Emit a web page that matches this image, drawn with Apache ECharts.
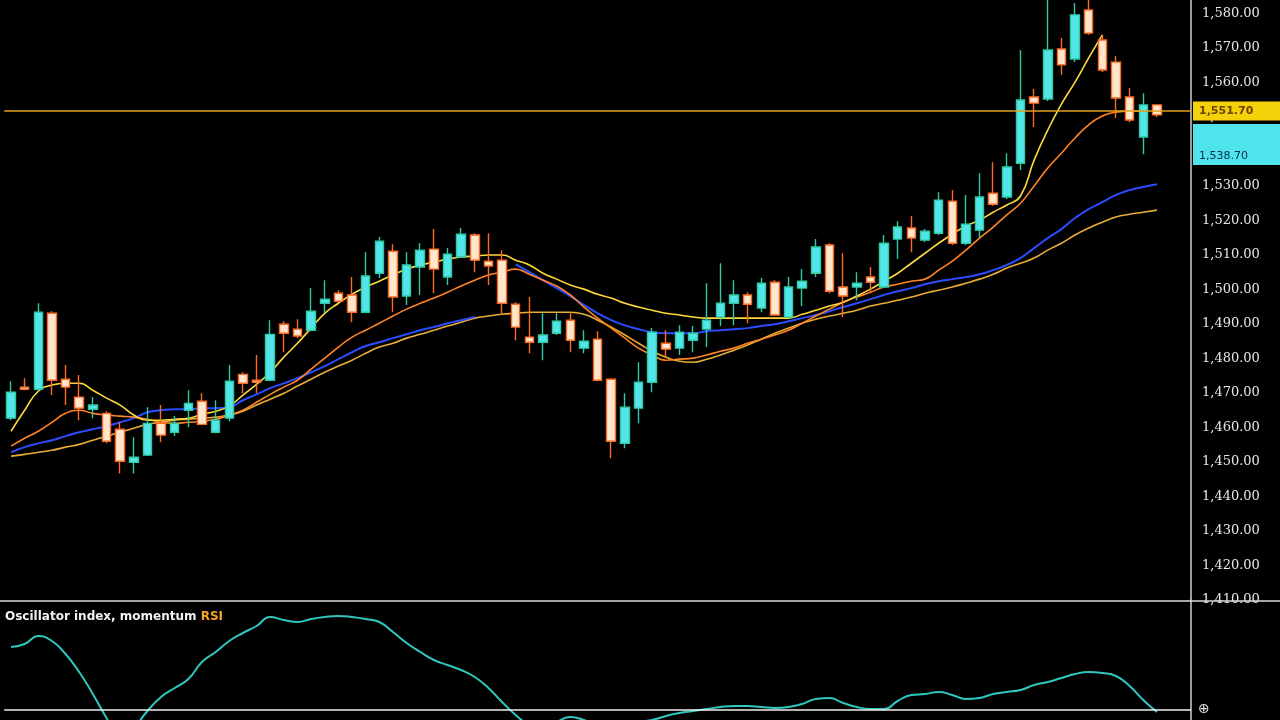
<!DOCTYPE html>
<html><head><meta charset="utf-8">
<script src="https://cdn.jsdelivr.net/npm/echarts/dist/echarts.min.js"></script>
<style>html,body{margin:0;padding:0;background:#000;}#c{width:1280px;height:720px;}</style>
</head><body><div id="c"></div>
<script>
// ---- data ----
const sessions = Array.from({length: 87}, (_, i) => 'T' + (i + 1));
const yTicks = {min: 1410, max: 1583.9, step: 10};

const opens  = [1462.7,1471.7,1471.1,1493.1,1474.0,1468.8,1465.3,1464.1,1459.5,1449.9,1452.0,1461.2,1458.6,1465.0,1467.6,1458.6,1462.7,1475.4,1473.7,1473.7,1489.9,1488.5,1488.2,1496.0,1498.9,1498.4,1493.4,1504.7,1511.1,1498.1,1506.5,1511.7,1503.6,1509.4,1515.8,1508.2,1508.5,1495.7,1486.2,1484.7,1487.3,1491.1,1483.0,1485.6,1474.0,1455.4,1465.6,1473.1,1484.4,1483.0,1485.3,1488.5,1492.0,1496.0,1498.4,1494.6,1502.1,1492.0,1500.4,1504.7,1512.9,1500.7,1500.7,1503.6,1500.7,1514.6,1517.8,1514.3,1516.3,1525.6,1513.4,1517.2,1527.9,1526.8,1536.6,1555.8,1555.2,1569.7,1566.8,1581.0,1572.3,1565.9,1555.8,1544.2,1553.5];
const closes = [1470.2,1471.1,1493.4,1473.7,1471.7,1465.6,1466.5,1456.0,1450.2,1451.4,1461.2,1457.8,1461.2,1467.0,1460.9,1462.1,1473.4,1472.8,1473.1,1487.0,1487.3,1486.5,1493.7,1497.2,1496.6,1493.4,1503.9,1514.0,1497.8,1507.1,1511.4,1505.9,1510.2,1516.0,1508.5,1506.8,1496.0,1489.1,1484.7,1486.8,1490.8,1485.3,1485.0,1473.7,1456.0,1465.9,1473.1,1487.6,1482.7,1487.6,1487.3,1491.1,1496.0,1498.4,1495.7,1501.8,1492.6,1500.7,1502.4,1512.3,1499.5,1498.1,1501.8,1502.1,1513.4,1518.1,1514.9,1516.9,1525.9,1513.4,1518.9,1526.8,1524.7,1535.5,1554.9,1554.0,1569.4,1565.1,1579.6,1574.3,1563.6,1555.5,1549.1,1553.5,1550.6];
const lows   = [1462.1,1470.8,1470.8,1469.4,1466.5,1462.1,1462.7,1455.4,1446.7,1446.7,1451.7,1455.7,1457.5,1460.1,1460.7,1458.3,1461.8,1469.9,1469.9,1473.4,1481.8,1485.9,1487.9,1493.1,1496.3,1490.5,1493.1,1503.3,1493.4,1495.5,1498.4,1498.9,1501.3,1509.1,1505.0,1501.3,1492.6,1485.3,1481.5,1479.5,1486.8,1481.8,1481.5,1473.4,1451.1,1454.0,1461.2,1470.2,1480.4,1481.0,1481.8,1483.3,1489.4,1489.6,1490.2,1493.4,1492.3,1491.7,1495.2,1503.6,1498.9,1492.0,1496.9,1498.9,1500.4,1508.8,1510.8,1513.7,1515.8,1512.9,1512.9,1514.9,1524.2,1526.2,1534.6,1547.1,1554.6,1562.2,1565.9,1573.8,1563.0,1549.7,1548.5,1539.2,1550.0];
const highs  = [1473.4,1474.3,1496.0,1493.7,1478.1,1475.2,1468.8,1464.7,1461.5,1457.2,1465.9,1466.5,1463.3,1470.8,1469.9,1467.9,1478.1,1476.0,1481.0,1491.1,1490.8,1491.4,1500.4,1502.7,1499.8,1503.6,1510.8,1515.2,1513.1,1510.8,1513.4,1517.5,1512.0,1517.8,1516.3,1516.3,1511.4,1496.3,1497.8,1493.1,1493.1,1493.1,1488.2,1487.9,1474.3,1469.9,1478.9,1488.8,1488.2,1489.6,1489.4,1501.8,1507.6,1502.7,1499.2,1503.3,1502.7,1503.6,1505.9,1514.6,1513.4,1510.5,1505.0,1506.5,1515.8,1519.8,1521.3,1517.5,1528.2,1528.8,1527.4,1533.7,1536.9,1539.5,1569.4,1558.1,1590.0,1572.9,1583.0,1590.0,1573.8,1567.7,1558.4,1556.9,1553.7];

const maFast = [1458.9,1465.0,1470.5,1472.3,1472.8,1472.8,1470.8,1468.5,1466.5,1463.6,1462.1,1462.1,1462.4,1462.7,1463.8,1464.7,1466.2,1469.4,1472.5,1476.0,1480.4,1484.4,1488.8,1493.1,1496.0,1498.6,1500.7,1502.4,1504.2,1505.9,1507.1,1507.9,1508.8,1509.4,1509.7,1510.0,1510.0,1508.5,1507.1,1504.7,1503.0,1501.3,1500.1,1498.6,1497.5,1496.0,1494.9,1494.0,1493.1,1492.6,1492.0,1491.7,1491.7,1491.7,1491.7,1491.7,1491.7,1491.7,1492.8,1494.0,1495.2,1496.3,1498.1,1500.1,1502.4,1504.7,1507.6,1510.5,1513.4,1516.0,1518.4,1520.1,1522.4,1524.5,1527.1,1537.5,1546.2,1553.7,1560.1,1567.1,1573.8,null,null,null,null];
const maMid  = [1454.6,1456.9,1458.9,1461.5,1464.1,1465.0,1464.1,1463.6,1463.3,1463.0,1462.4,1461.5,1461.2,1461.5,1461.8,1462.4,1463.6,1465.0,1467.3,1469.6,1471.7,1473.7,1476.9,1480.1,1483.3,1486.2,1488.2,1490.2,1492.3,1494.3,1496.0,1497.5,1499.2,1501.0,1502.7,1504.2,1505.0,1505.9,1504.4,1502.7,1501.0,1498.4,1494.9,1491.7,1488.8,1485.9,1483.0,1481.0,1479.5,1479.8,1480.1,1481.0,1482.1,1483.0,1484.4,1485.6,1486.8,1488.2,1490.2,1492.3,1494.3,1496.3,1497.8,1499.2,1500.7,1501.5,1502.4,1503.0,1505.6,1508.2,1511.4,1514.9,1518.1,1521.6,1525.0,1530.0,1535.2,1539.5,1543.9,1547.7,1550.3,1551.4,1551.7,1551.7,null];
const maBlue = [1452.8,1454.3,1455.4,1456.3,1457.5,1458.6,1459.5,1460.4,1461.5,1462.7,1464.4,1465.0,1465.3,1465.3,1465.6,1465.6,1465.9,1467.9,1469.6,1471.4,1472.8,1474.3,1476.0,1477.8,1479.8,1481.8,1483.6,1484.7,1485.9,1487.0,1488.2,1489.1,1490.2,1491.1,1492.0,null,null,1507.3,1505.0,1502.7,1500.4,1498.1,1495.5,1493.1,1491.1,1489.6,1488.5,1487.6,1487.3,1487.3,1487.3,1487.9,1488.2,1488.5,1488.8,1489.4,1489.9,1490.8,1491.7,1492.6,1493.7,1494.9,1496.0,1497.2,1498.4,1499.5,1500.4,1501.5,1502.4,1503.0,1503.6,1504.4,1505.6,1507.1,1509.1,1512.0,1514.9,1517.5,1520.7,1523.3,1525.3,1527.4,1528.8,1529.7,1530.5];
const maSlow = [1451.7,1452.2,1452.8,1453.4,1454.3,1455.1,1456.3,1457.5,1458.6,1459.8,1460.9,1461.5,1462.1,1462.4,1462.7,1463.0,1463.6,1464.7,1466.5,1468.2,1469.9,1472.0,1474.0,1476.0,1477.8,1479.5,1481.5,1483.3,1484.4,1485.9,1487.0,1488.2,1489.4,1490.5,1491.7,1492.3,1492.8,1493.1,1493.4,1493.4,1493.4,1493.4,1492.8,1491.1,1489.1,1486.8,1484.4,1482.1,1480.4,1479.2,1478.9,1479.8,1481.0,1482.4,1483.9,1485.6,1487.3,1488.8,1490.2,1491.4,1492.3,1493.1,1494.0,1495.2,1496.0,1496.9,1497.8,1498.9,1499.8,1500.7,1501.8,1503.0,1504.4,1506.2,1507.6,1509.1,1511.4,1513.4,1515.8,1517.8,1519.5,1521.0,1521.8,1522.4,1523.0];

const oscillator = [63,66,74,69,56,38,16,-8,-30,-18,-1,13,22,31,48,58,69,77,84,93,90,88,91,93,94,93,91,88,78,67,58,50,45,40,33,22,8,-5,-15,-18,-12,-7,-10,-16,-18,-17,-12,-10,-6,-3,-1,1,3,4,4,3,2,3,6,11,12,7,3,1,1,9,15,16,18,15,11,12,16,18,20,25,28,32,36,38,37,34,24,10,-2];

const priceLine = 1551.7;
const cyanBoxLevel = 1544.6;
const cyanTextLevel = 1538.7;
const oscLabel = 'Oscillator index, momentum ';
const oscLabelTail = 'RSI';

// ---- build ----
const candles = opens.map((o, i) => [o, closes[i], lows[i], highs[i]]);
const fmt = v => Number(v).toLocaleString('en-US', {minimumFractionDigits: 2, maximumFractionDigits: 2});

const chart = echarts.init(document.getElementById('c'));
const lineBase = (name, data, color, width) => ({
  name, type: 'line', data, xAxisIndex: 0, yAxisIndex: 0,
  smooth: true, showSymbol: false, connectNulls: false, silent: true,
  lineStyle: {color, width}, z: 2
});
const hiddenLine = {color: 'rgba(0,0,0,0)', width: 0};

chart.setOption({
  backgroundColor: '#000',
  animation: false,
  title: {
    left: 0, top: 606,
    text: '{w|' + oscLabel + '}{o|' + oscLabelTail + '}',
    textStyle: {
      rich: {
        w: {color: '#f2f2f2', fontSize: 12, fontFamily: 'DejaVu Sans'},
        o: {color: '#f5a623', fontSize: 12, fontFamily: 'DejaVu Sans'}
      }
    }
  },
  grid: [
    {left: 4.18, right: 89, top: 0, height: 600},
    {left: 4.18, right: 89, top: 600, height: 120}
  ],
  xAxis: [
    {type: 'category', data: sessions, gridIndex: 0, show: false},
    {type: 'category', data: sessions, gridIndex: 1, show: false}
  ],
  yAxis: [
    {
      type: 'value', gridIndex: 0, position: 'right', z: 0,
      min: yTicks.min, max: yTicks.max, interval: yTicks.step,
      axisLine: {show: true, lineStyle: {color: '#cfcfcf', width: 1.5}},
      axisTick: {show: false}, splitLine: {show: false},
      axisLabel: {
        color: '#e6e6e6', fontFamily: 'DejaVu Serif', fontSize: 13, margin: 11,
        showMaxLabel: false, formatter: fmt
      }
    },
    {
      type: 'value', gridIndex: 1, position: 'right', min: -10, max: 110,
      axisLine: {show: true, lineStyle: {color: '#cfcfcf', width: 1.5}},
      axisTick: {show: false}, splitLine: {show: false}, axisLabel: {show: false}
    }
  ],
  graphic: [
    {type: 'line', shape: {x1: 0, y1: 601, x2: 1280, y2: 601}, style: {stroke: '#dcdcdc', lineWidth: 1.5}, z: 10},
    {type: 'text', left: 1198, top: 702, style: {text: '\u2295', fill: '#e0e0e0', font: '14px DejaVu Sans'}, z: 10}
  ],
  series: [
    lineBase('MA slow', maSlow, '#e9ad35', 1.6),
    lineBase('MA blue', maBlue, '#2b4cff', 2),
    lineBase('MA mid', maMid, '#ff8426', 1.6),
    lineBase('MA fast', maFast, '#ffd83c', 1.6),
    {
      name: 'Price', type: 'candlestick', data: candles,
      xAxisIndex: 0, yAxisIndex: 0, barWidth: 9, z: 3,
      itemStyle: {
        color: '#52e6e8', borderColor: '#2fc9a4',
        color0: '#ffe6cc', borderColor0: '#ff6a22', borderWidth: 1.4
      },
      markLine: {
        silent: true, symbol: ['none', 'none'], animation: false, z: 20,
        data: [
          {
            yAxis: priceLine,
            lineStyle: {color: '#e3a020', width: 1.5, type: 'solid'},
            label: {
              show: true, position: 'end', distance: 2, formatter: fmt(priceLine),
              backgroundColor: '#f3d20c', color: '#6b4300', fontSize: 11,
              fontFamily: 'DejaVu Sans', fontWeight: 'bold',
              width: 75, padding: [4, 6, 4, 6], align: 'left'
            }
          },
          {
            yAxis: cyanBoxLevel,
            lineStyle: hiddenLine,
            label: {
              show: true, position: 'end', distance: 2, formatter: '\u00a0',
              backgroundColor: '#4fe3ec', color: '#0a2b4a', fontSize: 11,
              width: 75, height: 17, padding: [3, 6, 3, 6]
            }
          },
          {
            yAxis: cyanTextLevel,
            lineStyle: hiddenLine,
            label: {
              show: true, position: 'end', distance: 2, formatter: fmt(cyanTextLevel),
              backgroundColor: '#4fe3ec', color: '#0a2b4a', fontSize: 11,
              fontFamily: 'DejaVu Sans', width: 75, padding: [4, 6, 3, 6], align: 'left'
            }
          }
        ]
      }
    },
    {
      name: 'Oscillator', type: 'line', data: oscillator,
      xAxisIndex: 1, yAxisIndex: 1, smooth: true, showSymbol: false,
      lineStyle: {color: '#2fc7bf', width: 2}, silent: true,
      markLine: {
        silent: true, symbol: ['none', 'none'],
        data: [{yAxis: 0}],
        lineStyle: {color: '#efefef', width: 1.5, type: 'solid'},
        label: {show: false}
      }
    }
  ]
});
</script>
</body></html>
